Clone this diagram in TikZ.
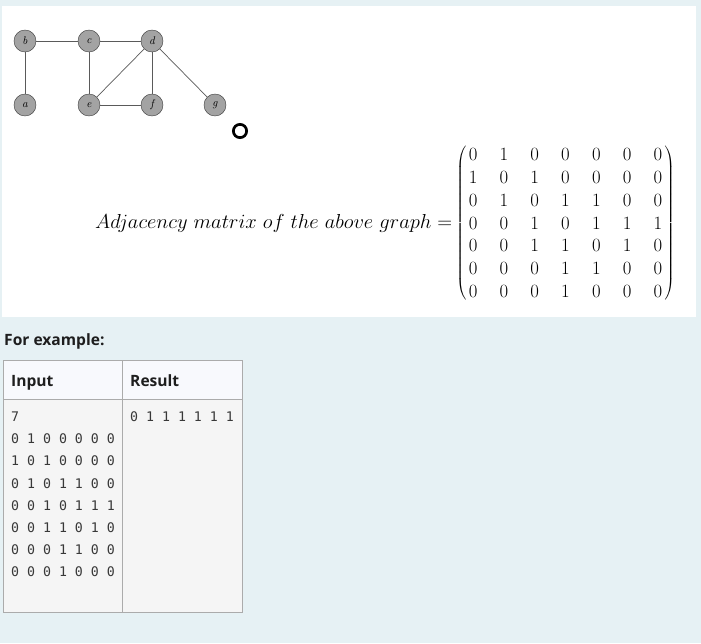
\documentclass[tikz,border=0pt]{standalone}
\usepackage{fontspec}
\usepackage{amsmath}
\usepackage{graphicx}
\usepackage{tikz}
\usetikzlibrary{matrix, positioning}
\newfontfamily\uifont{Open Sans}
\newfontfamily\codefont{DejaVu Sans Mono}
\definecolor{pagebg}{HTML}{E6F1F4}
\definecolor{gridline}{HTML}{ABABAB}
\definecolor{headbg}{HTML}{F8F9FD}
\definecolor{cellbg}{HTML}{F5F5F5}
\definecolor{vertexfill}{HTML}{A3A3A3}
\definecolor{edgegray}{HTML}{5A5A5A}
\definecolor{inktext}{HTML}{1E1E1E}

\begin{document}
\begin{tikzpicture}[x=0.03cm, y=-0.03cm,
    vertex/.style={circle, draw=black!75, fill=vertexfill, minimum size=0.66cm, inner sep=0pt, font=\fontsize{9.5}{10}\selectfont\itshape},
    edge/.style={draw=edgegray, line width=0.6pt},
    entry/.style={minimum width=0.3cm, minimum height=0.681cm, inner sep=0pt},
    headtext/.style={anchor=base west, inner sep=0pt, text=inktext, font=\fontsize{13.3}{16}\selectfont\uifont\bfseries},
    codetext/.style={anchor=base west, inner sep=0pt, text=black!78, font=\fontsize{11.3}{13}\selectfont\codefont}]
        % Page and panel
        \useasboundingbox (0,0) rectangle (701,643);
        \fill[pagebg] (0,0) rectangle (701,643);
        \fill[white] (2,6) rectangle (696,317);

        % Graph
        \node[vertex] (b) at (25,41) {b};
        \node[vertex] (c) at (89,41) {c};
        \node[vertex] (d) at (152,41) {d};
        \node[vertex] (a) at (25,105) {a};
        \node[vertex] (e) at (89,105) {e};
        \node[vertex] (f) at (152,105) {f};
        \node[vertex] (g) at (215,105) {g};
        \foreach \u/\v in {b/c, c/d, b/a, c/e, d/e, d/f, d/g, e/f}
            \draw[edge] (\u) -- (\v);
        \node[circle, draw=black, line width=2.3pt, minimum size=0.4cm, inner sep=0pt] (mark) at (240,131) {};

        % Adjacency matrix
        \node[anchor=base west, inner sep=0pt, font=\fontsize{16.8}{19}\selectfont] (caption) at (95,228)
            {\scalebox{1.014}[1]{$Adjacency\ matrix\ of\ the\ above\ graph =$}};
        \matrix (adj) [matrix of nodes, nodes={entry}, column sep=0.624cm, row sep=0pt, inner sep=0pt,
            left delimiter=(, right delimiter=), font=\fontsize{16}{19}\selectfont,
            every left delimiter/.style={xshift=1pt}, every right delimiter/.style={xshift=-1pt}] at (565.5,223) {
            0 & 1 & 0 & 0 & 0 & 0 & 0 \\
            1 & 0 & 1 & 0 & 0 & 0 & 0 \\
            0 & 1 & 0 & 1 & 1 & 0 & 0 \\
            0 & 0 & 1 & 0 & 1 & 1 & 1 \\
            0 & 0 & 1 & 1 & 0 & 1 & 0 \\
            0 & 0 & 0 & 1 & 1 & 0 & 0 \\
            0 & 0 & 0 & 1 & 0 & 0 & 0 \\
        };

        % Example table
        \node[headtext] (example) at (4,345) {For example:};
        \fill[cellbg] (3,360) rectangle (242,612);
        \fill[headbg] (3,360) rectangle (242,399);
        \draw[gridline, line width=0.85pt] (3,360) rectangle (242,612);
        \draw[gridline, line width=0.85pt] (3,399) -- (242,399);
        \draw[gridline, line width=0.85pt] (122,360) -- (122,612);
        \node[headtext] (inputhead) at (11,386) {Input};
        \node[headtext] (resulthead) at (130,386) {Result};
        \foreach \row [count=\i from 0] in {7, 0 1 0 0 0 0 0, 1 0 1 0 0 0 0, 0 1 0 1 1 0 0,
                0 0 1 0 1 1 1, 0 0 1 1 0 1 0, 0 0 0 1 1 0 0, 0 0 0 1 0 0 0}
            \node[codetext] (in\i) at (11,421.7+22.1*\i) {\row};
        \node[codetext] (result) at (130,421.7) {0 1 1 1 1 1 1};
\end{tikzpicture}
\end{document}
